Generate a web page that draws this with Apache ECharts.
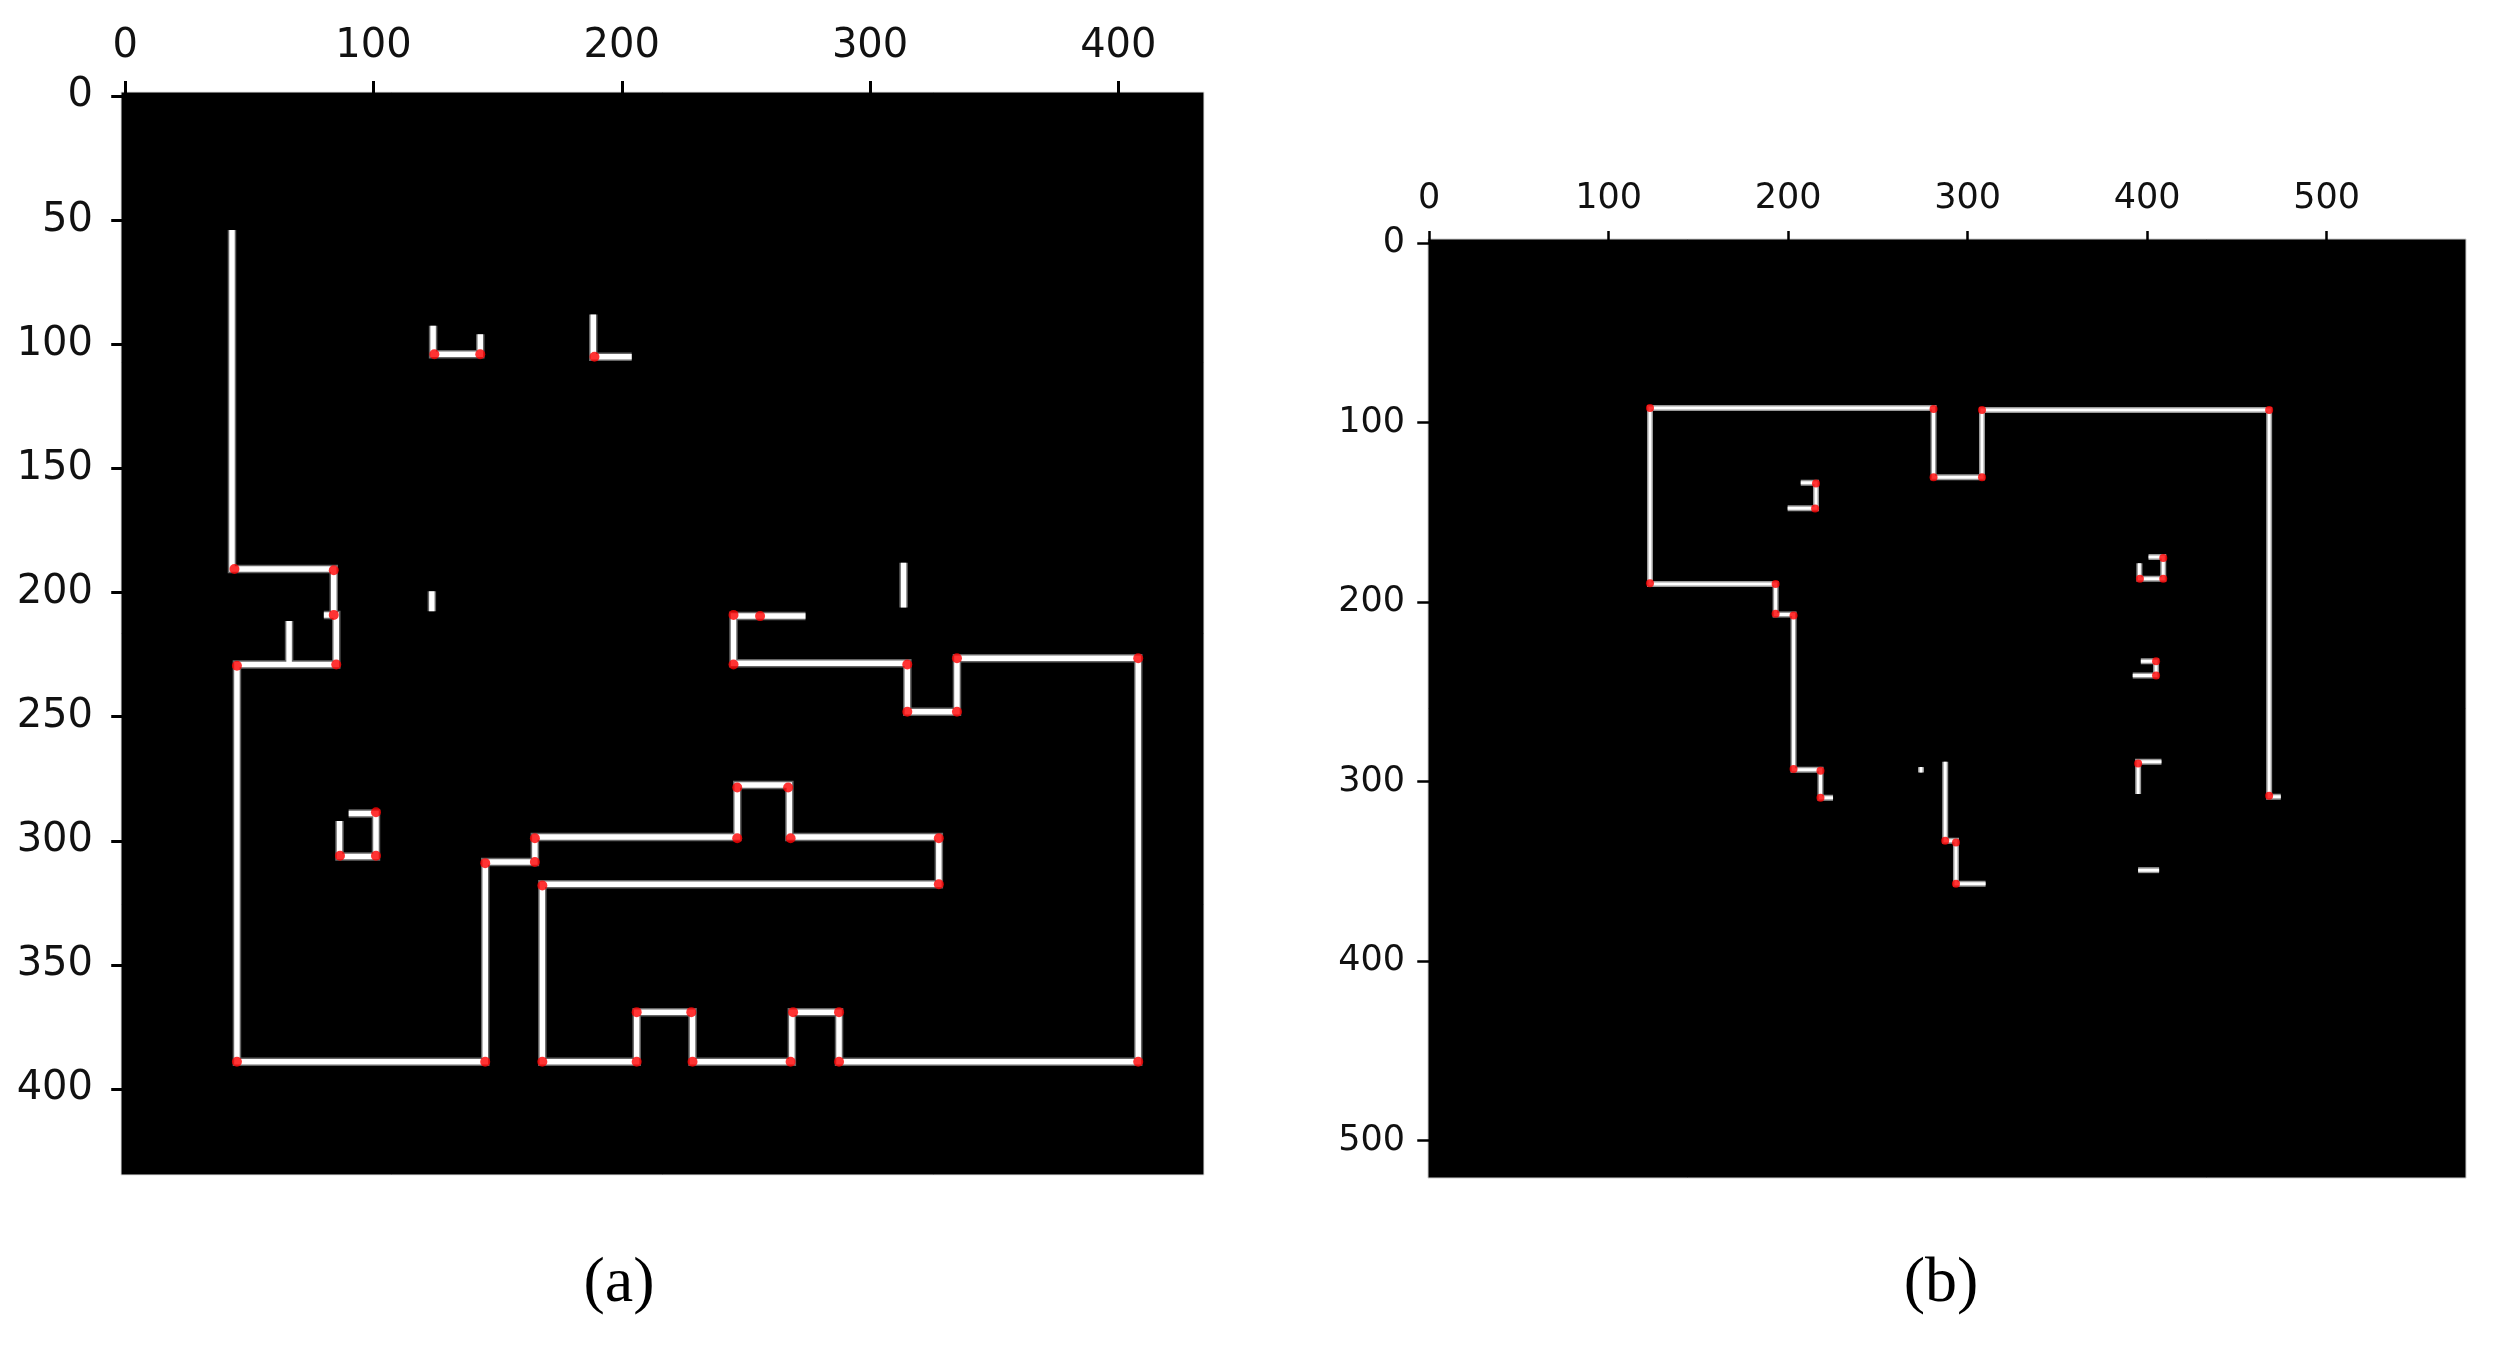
<!DOCTYPE html>
<html>
<head>
<meta charset="utf-8">
<style>
  html, body { margin: 0; padding: 0; background: #fff; }
  #chart { width: 2499px; height: 1348px; }
</style>
<script src="https://cdn.jsdelivr.net/npm/echarts@6/dist/echarts.min.js"></script>
</head>
<body>
<div id="chart"></div>
<script>
// tick labels
const ticksAX = [0, 100, 200, 300, 400];
const ticksAY = [0, 50, 100, 150, 200, 250, 300, 350, 400];
const ticksBX = [0, 100, 200, 300, 400, 500];
const ticksBY = [0, 100, 200, 300, 400, 500];

// panel (a) wall traces as [x, y]
const aOutline = [
  [43, 54], [43, 190.5], [84, 190.5], [84, 209], [85, 209], [85, 229], [45, 229], [45, 389],
  [145, 389], [145, 308.5], [165, 308.5], [165, 298.5], [246.5, 298.5], [246.5, 277.5],
  [267.5, 277.5], [267.5, 298.5], [327.7, 298.5], [327.7, 317.5], [168, 317.5], [168, 389],
  [206, 389], [206, 369], [228.5, 369], [228.5, 389], [268.5, 389], [268.5, 369], [287.5, 369],
  [287.5, 389], [408, 389], [408, 226.5], [335, 226.5], [335, 248], [315, 248], [315, 228.5],
  [245, 228.5], [245, 209.5], [274, 209.5]
];
const aStubLeft = [[84, 209], [80, 209]];
const aStubUp = [[66, 229], [66, 211.5]];
const aCup = [[124, 92.5], [124, 104], [143, 104], [143, 96]];
const aElbow = [[188.5, 88], [188.5, 105], [204, 105]];
const aDashLeft = [[123.5, 199.5], [123.5, 207.5]];
const aDashRight = [[313.5, 188], [313.5, 206]];
const aBox = [[90, 289], [101, 289], [101, 306.3], [86.3, 306.3], [86.3, 292]];
const aLines = [aOutline, aStubLeft, aStubUp, aCup, aElbow, aDashLeft, aDashRight, aBox];

// panel (a) detected corners
const aCorners = [
  [44, 190.5], [84, 191], [84, 209], [45, 229.5], [85, 229], [245, 209], [255.7, 209.5],
  [245, 229], [315, 229], [335, 226.5], [408, 226.5], [124.5, 104], [143, 104], [189, 105],
  [315, 248], [335, 248], [246.5, 278.5], [267, 278.5], [165, 299], [246.5, 299], [268, 299],
  [327.7, 299], [145, 309], [165, 308.5], [168, 318], [327.7, 317.5], [45, 389], [145, 389],
  [168, 389], [206, 389], [228.5, 389], [268, 389], [287.5, 389], [408, 389], [206, 369],
  [228, 369], [269, 369], [287.5, 369], [101, 288.5], [86.5, 306], [101, 306]
];

// panel (b) wall traces
const bOutline = [
  [225, 309], [218, 309], [218, 293.5], [203, 293.5], [203, 207], [193, 207], [193, 190],
  [123, 190], [123, 92], [281, 92], [281, 130.5], [308, 130.5], [308, 93], [468, 93],
  [468, 308.5], [474.5, 308.5]
];
const bHook = [[207, 133.6], [215.5, 133.6], [215.5, 147.8], [199.7, 147.8]];
const bDot = [[274, 292], [274, 295]];
const bStep = [[287.5, 289], [287.5, 333], [293.5, 333], [293.5, 357], [310, 357]];
const bBox = [[400.8, 175], [409, 175], [409, 187], [395.7, 187], [395.7, 178.4]];
const bHookRight = [[396.5, 233], [405, 233], [405, 241], [392, 241]];
const bElbow = [[408, 289], [395, 289], [395, 307]];
const bDash = [[395, 349.4], [406.7, 349.4]];
const bLines = [bOutline, bHook, bDot, bStep, bBox, bHookRight, bElbow, bDash];

// panel (b) detected corners
const bCorners = [
  [123, 92], [281, 92.5], [308, 93], [468, 93], [281, 130.5], [308, 130.5], [123, 189.6],
  [193, 190], [193, 206.6], [203, 207.5], [203, 293], [218, 294], [218, 309], [468, 308],
  [215.5, 134], [215, 148], [409, 175.5], [396, 187], [409, 187], [405, 233], [405, 241],
  [395, 290], [287.5, 333], [293.5, 334], [293.5, 357]
];

function tickOpts(ticks, length, width, fontSize, margin) {
  return {
    splitLine: { show: false },
    axisLine: { show: false },
    axisTick: { show: true, length: length, customValues: ticks, lineStyle: { color: '#000', width: width } },
    axisLabel: { color: '#111', fontFamily: 'DejaVu Sans', fontSize: fontSize, margin: margin, customValues: ticks, formatter: String }
  };
}

// gray halo under a white core, the scaled-up bitmap look of the original
function makeSeries(grid, lines, corners, style) {
  const traces = [];
  [[style.halo, style.haloWidth, 2], [ '#fff', style.coreWidth, 3 ]].forEach(function (layer) {
    lines.forEach(function (pts) {
      traces.push({
        type: 'line', xAxisIndex: grid, yAxisIndex: grid, data: pts, z: layer[2],
        showSymbol: false, silent: true,
        lineStyle: { color: layer[0], width: layer[1], cap: 'butt', join: 'miter' }
      });
    });
  });
  traces.push({
    type: 'scatter', xAxisIndex: grid, yAxisIndex: grid, data: corners, z: 5,
    symbol: 'circle', symbolSize: style.dot, silent: true,
    itemStyle: { color: '#f00' }
  });
  return traces;
}

const captionStyle = { fontFamily: 'Liberation Serif', fontSize: 64, fontWeight: 'normal', color: '#000' };

const chart = echarts.init(document.getElementById('chart'));
chart.setOption({
  backgroundColor: '#fff',
  animation: false,
  title: [
    { text: '(a)', left: 614, top: 1247, textAlign: 'center', textStyle: captionStyle },
    { text: '(b)', left: 1936, top: 1247, textAlign: 'center', textStyle: captionStyle }
  ],
  grid: [
    { left: 121, top: 92, width: 1083, height: 1083, show: true, backgroundColor: '#000', borderWidth: 1, borderColor: '#e6e6e6' },
    { left: 1428, top: 239, width: 1038, height: 939, show: true, backgroundColor: '#000', borderWidth: 1, borderColor: '#ccc' }
  ],
  xAxis: [
    { type: 'value', gridIndex: 0, position: 'top', min: -1.7, max: 434.5, ...tickOpts(ticksAX, 15, 3, 40, 25) },
    { type: 'value', gridIndex: 1, position: 'top', min: -0.7, max: 577.7, ...tickOpts(ticksBX, 12, 2.5, 35, 23) }
  ],
  yAxis: [
    { type: 'value', gridIndex: 0, inverse: true, min: -1.6, max: 434.6, ...tickOpts(ticksAY, 14, 3, 40, 28) },
    { type: 'value', gridIndex: 1, inverse: true, min: -2.2, max: 520.9, ...tickOpts(ticksBY, 12, 2.5, 35, 23) }
  ],
  series: makeSeries(0, aLines, aCorners, { halo: '#666', haloWidth: 8.5, coreWidth: 5.5, dot: 10 })
    .concat(makeSeries(1, bLines, bCorners, { halo: '#999', haloWidth: 6, coreWidth: 3, dot: 8 }))
});
</script>
</body>
</html>
